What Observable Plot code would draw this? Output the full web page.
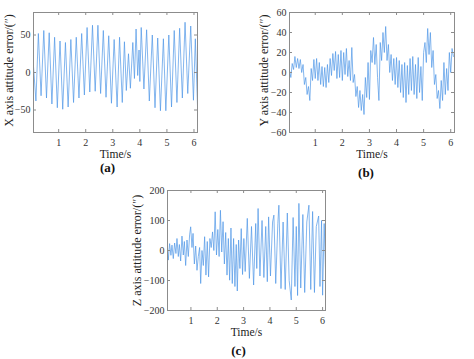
<!DOCTYPE html>
<html>
<head>
<meta charset="utf-8">
<script src="https://cdn.jsdelivr.net/npm/d3@7"></script>
<script src="https://cdn.jsdelivr.net/npm/@observablehq/plot@0.6"></script>
<style>
  html, body { margin: 0; padding: 0; background: #fff; }
  #wrap { position: relative; width: 474px; height: 359px; background: #fff; overflow: hidden; }
  .panel { position: absolute; }
  .panel svg, .panel svg text, .panel svg g { font-family: "Times New Roman", "Liberation Serif", "DejaVu Serif", serif !important; }
</style>
</head>
<body>
<div id="wrap"></div>
<script>
// ---------- data ----------
const xTicks = [1, 2, 3, 4, 5, 6];
const aYTicks = [-50, 0, 50];
const bYTicks = [-60, -40, -20, 0, 20, 40, 60];
const cYTicks = [-200, -100, 0, 100, 200];

const aTime = [0.07,0.16,0.25,0.35,0.45,0.55,0.65,0.75,0.85,0.95,1.05,1.15,1.25,1.35,1.45,1.55,1.65,1.75,1.85,1.95,
  2.05,2.15,2.25,2.35,2.45,2.55,2.65,2.75,2.85,2.95,3.05,3.16,3.25,3.35,3.43,3.50,3.58,3.65,3.74,3.80,3.86,3.92,3.97,4.00,
  4.05,4.15,4.25,4.35,4.46,4.56,4.66,4.76,4.87,4.96,5.07,5.17,5.27,5.37,5.47,5.57,5.67,5.77,5.88,5.98,6.05,6.13];
const aErr = [8,-38,52,-31,56,-34,53,-42,47,-47,42,-49,40,-46,44,-40,47,-34,52,-30,
  60,-26,63,-25,63,-28,56,-33,49,-41,44,-46,47,-40,41,-24,25,-21,40,-8,58,-4,30,-12,
  60,-22,57,-38,50,-47,46,-51,45,-51,50,-46,56,-40,59,-34,67,-28,62,-37,45,-44];

const bTime = [0.05,0.10,0.15,0.20,0.25,0.30,0.35,0.40,0.45,0.50,0.55,0.60,0.65,0.70,0.75,0.80,0.85,0.90,0.95,1.00,
  1.05,1.10,1.15,1.20,1.25,1.30,1.35,1.40,1.45,1.50,1.55,1.60,1.65,1.70,1.75,1.80,1.85,1.90,1.95,2.00,
  2.05,2.10,2.15,2.20,2.25,2.30,2.35,2.40,2.45,2.50,2.55,2.60,2.65,2.70,2.75,2.80,2.85,2.90,2.95,3.00,
  3.05,3.10,3.15,3.20,3.25,3.30,3.35,3.40,3.45,3.50,3.55,3.60,3.65,3.70,3.75,3.80,3.85,3.90,3.95,4.00,
  4.05,4.10,4.15,4.20,4.25,4.30,4.35,4.40,4.45,4.50,4.55,4.60,4.65,4.70,4.75,4.80,4.85,4.90,4.95,5.00,
  5.05,5.10,5.15,5.20,5.25,5.30,5.35,5.40,5.45,5.50,5.55,5.60,5.65,5.70,5.75,5.80,5.85,5.90,5.95,6.00,
  6.05,6.10];
const bErr = [2,-5,9,3,16,5,14,4,13,0,8,-12,-5,-22,-14,-28,4,-8,13,-6,
  14,-8,10,-12,6,-14,5,-15,8,-10,14,-3,19,2,21,-6,18,-5,22,-8,
  20,-2,24,-4,12,-8,25,-10,-2,-24,-14,-35,-18,-38,-22,-42,-5,-25,10,-27,
  22,10,35,8,28,-5,-28,30,12,40,20,46,12,28,0,18,-8,14,-12,15,
  -15,12,-20,8,-25,10,-30,7,-22,14,-18,16,-22,8,-26,15,-20,6,-28,20,
  30,10,44,18,40,5,22,-12,-2,-26,-18,-36,-8,-28,10,-22,4,-18,20,0,
  24,16];

const cTime = [0.11,0.14,0.19,0.24,0.28,0.33,0.38,0.43,0.47,0.52,0.56,0.61,0.66,0.71,0.75,0.80,0.85,0.90,0.95,0.99,
  1.04,1.08,1.13,1.18,1.23,1.28,1.33,1.37,1.42,1.47,1.52,1.57,1.62,1.67,1.72,1.77,1.82,1.87,1.92,1.97,
  2.02,2.07,2.12,2.17,2.22,2.27,2.32,2.37,2.42,2.47,2.52,2.57,2.62,2.67,2.72,2.76,2.81,2.86,2.91,2.96,
  3.01,3.06,3.14,3.22,3.30,3.38,3.46,3.50,3.55,3.62,3.70,3.77,3.84,3.90,3.95,4.02,4.10,4.15,4.22,4.30,
  4.34,4.42,4.50,4.58,4.66,4.73,4.81,4.88,4.95,5.00,5.05,5.10,5.17,5.25,5.32,5.40,5.48,5.55,5.62,5.69,
  5.76,5.85,5.90,5.96,6.00,6.06,6.11];
const cErr = [10,-32,23,-16,18,-27,25,-10,40,-20,20,-35,48,-15,30,-50,35,-20,52,79,
  10,57,-45,15,-66,-20,10,-110,0,-50,46,-82,30,-88,40,10,62,0,129,-15,
  70,-20,134,-5,96,-45,60,-82,40,-99,75,-110,40,-120,20,-135,35,-60,73,-80,
  40,-70,107,-93,80,-115,90,-60,140,-85,100,-90,80,-104,112,-85,95,118,-110,90,
  151,-127,95,-130,125,-100,-165,110,-120,80,-150,157,-125,120,-140,95,151,-130,130,-140,
  80,115,-120,100,-149,90,-60];

// ---------- drawing ----------
const LINE = "#4f97e6";
const FRAME = "#8c8c8c";
const FONT = "Times New Roman, Liberation Serif, DejaVu Serif, serif";

function panel({left, top, width, height, mL, mR, mT, mB, xDomain, yDomain, yTicks,
                time, err, yLabel, yLabelDx, yLabelDy, caption, capDx, capDy}) {
  const W = width - mL - mR, H = height - mT - mB;
  const data = time.map((t, i) => ({t, v: err[i]}));
  const svg = Plot.plot({
    width, height,
    marginLeft: mL, marginRight: mR, marginTop: mT, marginBottom: mB,
    style: {fontFamily: FONT, background: "#fff", color: "#222", overflow: "visible"},
    x: {domain: xDomain, axis: null},
    y: {domain: yDomain, axis: null},
    marks: [
      Plot.line(data, {x: "t", y: "v", stroke: LINE, strokeWidth: 0.7, clip: true}),
      Plot.frame({stroke: FRAME, strokeWidth: 1}),
      Plot.tickX(xTicks, {x: d => d, insetBottom: H - 3, stroke: FRAME}),
      Plot.tickX(xTicks, {x: d => d, insetTop: H - 3, stroke: FRAME}),
      Plot.tickY(yTicks, {y: d => d, insetRight: W - 3, stroke: FRAME}),
      Plot.tickY(yTicks, {y: d => d, insetLeft: W - 3, stroke: FRAME}),
      Plot.axisX(xTicks, {anchor: "bottom", tickSize: 0, tickPadding: 6, fontSize: 10, fontFamily: FONT, label: null, fill: "#333"}),
      Plot.axisY(yTicks, {anchor: "left", tickSize: 0, tickPadding: 3, fontSize: 10, fontFamily: FONT, label: null, fill: "#333"}),
      Plot.text([yLabel], {frameAnchor: "left", rotate: -90, dx: yLabelDx, dy: yLabelDy, fontSize: 12, fontFamily: FONT,
        textAnchor: "middle", lineAnchor: "middle", fill: "#222"}),
      Plot.text(["Time/s"], {frameAnchor: "bottom", dy: 22, fontSize: 11.5, fontFamily: FONT,
        textAnchor: "middle", lineAnchor: "middle", fill: "#222"}),
      Plot.text([caption], {frameAnchor: "bottom", dx: capDx, dy: capDy, fontSize: 13, fontWeight: "bold", fontFamily: FONT,
        textAnchor: "middle", lineAnchor: "middle", fill: "#111"})
    ]
  });
  const div = document.createElement("div");
  div.className = "panel";
  div.style.left = left + "px";
  div.style.top = top + "px";
  div.appendChild(svg);
  document.getElementById("wrap").appendChild(div);
}

panel({left: 0, top: 0, width: 237, height: 180, mL: 33, mR: 40, mT: 12, mB: 48,
  xDomain: [0.07, 6.13], yDomain: [-80, 80], yTicks: aYTicks, time: aTime, err: aErr,
  yLabel: "X axis attitude error/(″)", yLabelDx: -24, yLabelDy: -2,
  caption: "(a)", capDx: -8, capDy: 35});

panel({left: 237, top: 0, width: 237, height: 180, mL: 52, mR: 20, mT: 12, mB: 48,
  xDomain: [0.05, 6.14], yDomain: [-60, 60], yTicks: bYTicks, time: bTime, err: bErr,
  yLabel: "Y axis attitude error/(″)", yLabelDx: -25, yLabelDy: -2,
  caption: "(b)", capDx: -6, capDy: 40});

panel({left: 110, top: 180, width: 250, height: 179, mL: 57, mR: 35, mT: 10, mB: 49,
  xDomain: [0.11, 6.11], yDomain: [-200, 200], yTicks: cYTicks, time: cTime, err: cErr,
  yLabel: "Z axis attitude error/(″)", yLabelDx: -30, yLabelDy: 0,
  caption: "(c)", capDx: -8, capDy: 40});
</script>
</body>
</html>
